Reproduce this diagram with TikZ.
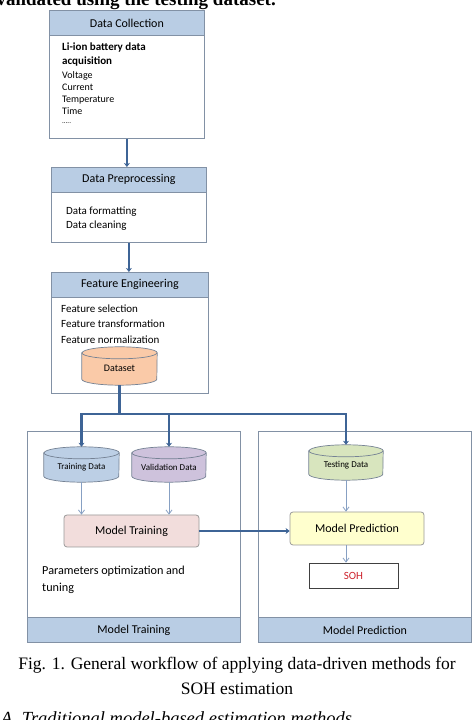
\documentclass[tikz,border=0pt]{standalone}
\usepackage{fontspec}
\setmainfont{Carlito}
\newfontfamily\capfont{Liberation Serif}
\usetikzlibrary{calc,arrows.meta}
\definecolor{hblue}{RGB}{185,205,228}
\definecolor{bcol}{RGB}{130,145,165}
\definecolor{acol}{RGB}{62,100,150}
\definecolor{tcol}{RGB}{135,160,195}
\definecolor{dsfill}{RGB}{250,202,168}
\definecolor{trfill}{RGB}{188,207,229}
\definecolor{vafill}{RGB}{206,194,220}
\definecolor{tefill}{RGB}{216,229,190}
\definecolor{mtfill}{RGB}{242,221,220}
\definecolor{mpfill}{RGB}{255,255,206}
\definecolor{sohred}{RGB}{205,35,45}
\tikzset{
  panel/.style={draw=bcol, line width=0.8pt, fill=white, inner sep=0pt, anchor=north west},
  band/.style={draw=bcol, line width=0.8pt, fill=hblue, inner sep=0pt, anchor=north west, font=\fontsize{12}{14}\selectfont},
  item/.style={anchor=base west, inner sep=0pt, font=\fontsize{11}{13}\selectfont},
  sitem/.style={anchor=base west, inner sep=0pt, font=\fontsize{10}{12}\selectfont},
  bitem/.style={anchor=base west, inner sep=0pt, font=\fontsize{11}{13}\selectfont\bfseries},
  fatarrow/.style={draw=acol, line width=2.6pt, -{Stealth[length=4pt,width=6pt]}},
  fatline/.style={draw=acol, line width=2.6pt},
  thinarrow/.style={draw=tcol, line width=0.8pt, -{Straight Barb[length=4pt,width=6pt]}},
  cylbox/.style={inner sep=0pt},
  cylline/.style={draw=bcol!90!black, line width=0.7pt},
  rbox/.style={draw=gray!80, line width=0.8pt, rounded corners=3pt, inner sep=0pt, font=\fontsize{12}{14}\selectfont},
}
% name, cx, cy, w, h, fill, text, font size
\newcommand{\mycyl}[8]{%
  \node[cylbox, minimum width=#4, minimum height=#5] (#1) at (#2,#3) {};
  \draw[cylline, fill=#6] ($(#1.north west)+(0,-6)$) -- ($(#1.south west)+(0,6)$)
     arc[start angle=180, end angle=360, x radius=#4/2, y radius=6]
     -- ($(#1.north east)+(0,-6)$)
     arc[start angle=0, end angle=180, x radius=#4/2, y radius=6] -- cycle;
  \draw[cylline] ($(#1.north west)+(0,-6)$) arc[start angle=180, end angle=360, x radius=#4/2, y radius=6];
  \node[inner sep=0pt, font=\fontsize{#8}{#8}\selectfont] (#1t) at ($(#1.center)+(0,-2.5)$) {#7};
}
\begin{document}
\begin{tikzpicture}[x=1pt,y=1pt]
\useasboundingbox (0,0) rectangle (474,720);
\fill[white] (0,0) rectangle (474,720);

% clipped text fragments at top and bottom
\begin{scope}
\clip (0,0) rectangle (474,720);
\node[anchor=base east, inner sep=0pt, font=\capfont\fontsize{19}{21}\selectfont\bfseries] (toptext) at (276,714) {validated using the testing dataset.};
\node[anchor=base west, inner sep=0pt, font=\capfont\fontsize{18.5}{21}\selectfont\itshape] (bottext) at (1,-5) {A. Traditional model-based estimation methods};
\end{scope}

% Data Collection
\node[panel, minimum width=155, minimum height=128] (dc) at (49,710) {};
\node[band, minimum width=155, minimum height=25] (dch) at (49,710) {Data Collection};
\node[bitem] (dc1) at (62,669) {Li-ion battery data};
\node[bitem] (dc2) at (62,655) {acquisition};
\node[sitem] (dc3) at (62,641) {Voltage};
\node[sitem] (dc4) at (62,629) {Current};
\node[sitem] (dc5) at (62,617) {Temperature};
\node[sitem] (dc6) at (62,605) {Time};
\node[sitem] (dc7) at (62,596) {\fontsize{7}{8}\selectfont .....};

% Data Preprocessing
\node[panel, minimum width=155, minimum height=75] (dp) at (51,553) {};
\node[band, minimum width=155, minimum height=25] (dph) at (51,553) {Data Preprocessing};
\node[item] (dp1) at (66,505) {Data formatting};
\node[item] (dp2) at (66,491) {Data cleaning};

% Feature Engineering
\node[panel, minimum width=157, minimum height=121] (fe) at (51,448) {};
\node[band, minimum width=157, minimum height=25] (feh) at (51,448) {Feature Engineering};
\node[item] (fe1) at (61,407) {Feature selection};
\node[item] (fe2) at (61,392) {Feature transformation};
\node[item] (fe3) at (61,376) {Feature normalization};
\mycyl{ds}{119.5}{354}{75}{38}{dsfill}{Dataset}{10}

% Model Training panel
\node[panel, minimum width=213, minimum height=211] (mtp) at (27,289) {};
\node[band, minimum width=213, minimum height=25, anchor=south west] (mtb) at (mtp.south west) {Model Training};
% Model Prediction panel
\node[panel, minimum width=213, minimum height=211] (mpp) at (258,289) {};
\node[band, minimum width=213, minimum height=25, anchor=south west] (mpb) at (mpp.south west) {Model Prediction};

% data cylinders
\mycyl{td}{81.5}{255.5}{75}{35}{trfill}{Training Data}{9}
\mycyl{vd}{169}{255.5}{74}{35}{vafill}{Validation Data}{9}
\mycyl{tsd}{346}{257.5}{74}{35}{tefill}{Testing Data}{9}

% boxes
\node[rbox, fill=mtfill, minimum width=135, minimum height=32] (mt) at (131.5,189) {Model Training};
\node[rbox, fill=mpfill, minimum width=134, minimum height=33] (mp) at (357,191.5) {Model Prediction};
\node[draw=black!75, line width=0.7pt, fill=white, minimum width=89, minimum height=25, inner sep=0pt, text=sohred, font=\fontsize{11}{13}\selectfont] (soh) at (353.5,144.5) {SOH};

\node[item, font=\fontsize{12.2}{14}\selectfont] (po1) at (42,145) {Parameters optimization and};
\node[item, font=\fontsize{12.2}{14}\selectfont] (po2) at (42,128) {tuning};

% thick flow arrows
\draw[fatarrow] (dc.south) -- (dc.south |- dp.north);
\draw[fatarrow] (dp.south) -- (dp.south |- fe.north);
\coordinate (br) at (ds.south |- 0,306);
\draw[fatline] (ds.south) -- (br);
\draw[fatline, line cap=rect] (td.north |- br) -- (tsd.north |- br);
\draw[fatarrow] (td.north |- br) -- (td.north);
\draw[fatarrow] (vd.north |- br) -- (vd.north);
\draw[fatarrow] (tsd.north |- br) -- (tsd.north);
\draw[fatarrow] (mt.east) -- (mt.east -| mp.west);

% thin arrows
\draw[thinarrow] (td.south) -- (td.south |- mt.north);
\draw[thinarrow] (vd.south) -- (vd.south |- mt.north);
\draw[thinarrow] (tsd.south) -- (tsd.south |- mp.north);
\draw[thinarrow] (tsd.south |- mp.south) -- (tsd.south |- soh.north);

% caption
\node[anchor=base, inner sep=0pt, font=\capfont\fontsize{17.5}{20}\selectfont] (cap1) at (237,50) {Fig. 1. General workflow of applying data-driven methods for};
\node[anchor=base, inner sep=0pt, font=\capfont\fontsize{17.5}{20}\selectfont] (cap2) at (237,25) {SOH estimation};
\end{tikzpicture}
\end{document}
